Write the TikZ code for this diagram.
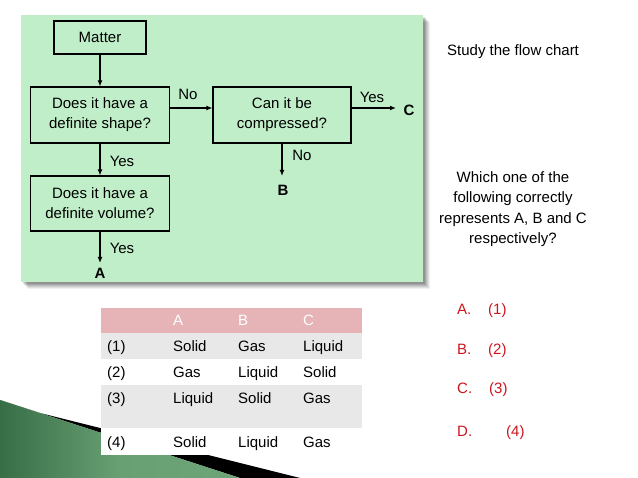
\documentclass[tikz,border=0pt]{standalone}
\usepackage{fontspec}
\setmainfont{Liberation Sans}
\usetikzlibrary{arrows.meta}
\definecolor{panel}{RGB}{192,238,200}
\definecolor{pinkrow}{RGB}{230,180,182}
\definecolor{grayrow}{RGB}{232,232,232}
\definecolor{optred}{RGB}{204,22,30}
\definecolor{dgreen}{RGB}{56,110,70}
\definecolor{lgreen}{RGB}{110,165,120}
\tikzset{
  fbox/.style={draw=black, line width=1.1pt, align=center, inner sep=0pt,
    font=\fontsize{15}{20}\selectfont},
  flow/.style={draw=black, line width=1.2pt, -{Latex[length=6pt,width=5pt]}},
  lbl/.style={font=\fontsize{15}{18}\selectfont, inner sep=0pt},
  endlbl/.style={font=\bfseries\fontsize{15}{18}\selectfont, inner sep=0pt},
  cell/.style={font=\fontsize{15}{18}\selectfont, anchor=west, inner sep=0pt,
    text height=11pt, text depth=3pt},
  hcell/.style={cell, text=white},
  opt/.style={font=\fontsize{15}{18}\selectfont, text=optred, anchor=west, inner sep=0pt,
    text height=11pt, text depth=3pt},
  qtxt/.style={font=\fontsize{15}{20.5}\selectfont, inner sep=0pt},
}
\begin{document}
\begin{tikzpicture}[x=1pt,y=-1pt]
\useasboundingbox (0,0) rectangle (638,478);
\fill[white] (0,0) rectangle (638,478);
% green wedge and black stripe bottom-left
\fill[black] (40,413) -- (300,478) -- (240,478) -- (0,400) -- cycle;
\shade[left color=dgreen, right color=lgreen, middle color=lgreen!90!dgreen] (0,400) -- (240,478) -- (0,478) -- cycle;
% panel shadow
\foreach \o/\a in {7/0.06,6/0.07,5/0.08,4/0.09,3/0.10,2/0.12}{
  \fill[black, opacity=\a] (21+\o,15+\o) rectangle (423+\o,282+\o);
}
\fill[panel] (21,15) rectangle (423,282);
% flowchart
\node[fbox, minimum width=92pt, minimum height=33pt] (matter) at (100,37.5) {Matter};
\node[fbox, minimum width=139pt, minimum height=56pt] (shape) at (100,115) {Does it have a\\definite shape?};
\node[fbox, minimum width=138pt, minimum height=56pt] (comp) at (282,115) {Can it be\\compressed?};
\node[fbox, minimum width=139pt, minimum height=55pt] (vol) at (100,203.5) {Does it have a\\definite volume?};
\node[endlbl] (A) at (100,273) {A};
\node[endlbl] (B) at (283,190) {B};
\node[endlbl] (C) at (409,110) {C};
\coordinate (Aend) at (100,263);
\coordinate (Bend) at (282,176);
\coordinate (Cend) at (396,108);
\draw[flow] (matter.south) -- (shape.north);
\draw[flow] (shape.south) -- (vol.north);
\draw[flow] (vol.south) -- (Aend);
\draw[flow] ([yshift=7pt]shape.east) -- ([yshift=7pt]comp.west);
\draw[flow] ([yshift=7pt]comp.east) -- (Cend);
\draw[flow] (comp.south) -- (Bend);
\node[lbl] (l1) at (188,94) {No};
\node[lbl] (l2) at (372,97) {Yes};
\node[lbl] (l3) at (122,161) {Yes};
\node[lbl] (l4) at (302,155) {No};
\node[lbl] (l5) at (122,248) {Yes};
% right text
\node[qtxt, anchor=west] (study) at (447,52) {Study the flow chart};
\node[qtxt, align=center] (quest) at (513,209) {Which one of the\\following correctly\\represents A, B and C\\respectively?};
% table
\fill[pinkrow] (101,308) rectangle (362,333);
\fill[grayrow] (101,333) rectangle (362,359);
\fill[white] (101,359) rectangle (362,385);
\fill[grayrow] (101,385) rectangle (362,428);
\fill[white] (101,428) rectangle (362,455);
\node[hcell] (hA) at (173,322) {A};
\node[hcell] (hB) at (238,322) {B};
\node[hcell] (hC) at (303,322) {C};
\node[cell] (r1) at (107,348) {(1)};
\node[cell] (r1a) at (173,348) {Solid};
\node[cell] (r1b) at (238,348) {Gas};
\node[cell] (r1c) at (303,348) {Liquid};
\node[cell] (r2) at (107,374) {(2)};
\node[cell] (r2a) at (173,374) {Gas};
\node[cell] (r2b) at (238,374) {Liquid};
\node[cell] (r2c) at (303,374) {Solid};
\node[cell] (r3) at (107,400) {(3)};
\node[cell] (r3a) at (173,400) {Liquid};
\node[cell] (r3b) at (238,400) {Solid};
\node[cell] (r3c) at (303,400) {Gas};
\node[cell] (r4) at (107,444) {(4)};
\node[cell] (r4a) at (173,444) {Solid};
\node[cell] (r4b) at (238,444) {Liquid};
\node[cell] (r4c) at (303,444) {Gas};
% options
\node[opt] (oA) at (457,311) {A.};
\node[opt] (oA1) at (488,311) {(1)};
\node[opt] (oB) at (457,351) {B.};
\node[opt] (oB1) at (488,351) {(2)};
\node[opt] (oC) at (457,390) {C.};
\node[opt] (oC1) at (489,390) {(3)};
\node[opt] (oD) at (457,433) {D.};
\node[opt] (oD1) at (506,433) {(4)};
\end{tikzpicture}
\end{document}
